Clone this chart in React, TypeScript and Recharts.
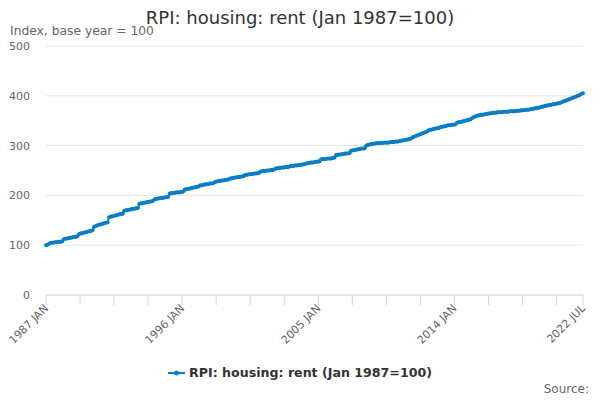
import React from 'react';
import { LineChart, Line, XAxis, YAxis, CartesianGrid } from 'recharts';

const FONT = '"DejaVu Sans", sans-serif';
const BLUE = '#0a7ec4';

// first and last month of the series
const startYear = 1987;
const monthNames = ['JAN', 'FEB', 'MAR', 'APR', 'MAY', 'JUN', 'JUL', 'AUG', 'SEP', 'OCT', 'NOV', 'DEC'];

// RPI: housing: rent (Jan 1987=100), monthly
const rentIndex = [
  100, 101, 102, 104, 105, 105, 105, 106, 106, 106, 107, 107, // 1987
  107, 108, 112, 113, 113, 114, 114, 115, 115, 116, 116, 117, // 1988
  117, 118, 122, 123, 124, 124, 125, 126, 126, 127, 128, 128, // 1989
  129, 130, 137, 138, 139, 140, 141, 142, 142, 143, 144, 145, // 1990
  145, 146, 156, 157, 158, 158, 159, 160, 160, 161, 162, 162, // 1991
  163, 163, 169, 170, 170, 171, 171, 172, 172, 173, 173, 174, // 1992
  174, 175, 183, 184, 184, 185, 185, 186, 186, 187, 187, 188, // 1993
  188, 189, 192, 193, 193, 194, 194, 195, 195, 195, 196, 196, // 1994
  197, 197, 204, 204, 205, 205, 205, 206, 206, 206, 206, 207, // 1995
  207, 208, 212, 212, 213, 213, 214, 214, 215, 216, 216, 217, // 1996
  217, 218, 220, 220, 221, 221, 222, 222, 223, 223, 224, 224, // 1997
  224, 225, 227, 228, 228, 229, 229, 230, 230, 230, 231, 231, // 1998
  232, 232, 234, 234, 235, 235, 236, 236, 237, 237, 237, 238, // 1999
  238, 239, 241, 241, 242, 242, 243, 243, 243, 244, 244, 244, // 2000
  245, 245, 248, 248, 249, 249, 249, 250, 250, 250, 251, 251, // 2001
  251, 252, 254, 254, 255, 255, 255, 256, 256, 256, 257, 257, // 2002
  257, 258, 259, 259, 259, 260, 260, 260, 261, 261, 261, 262, // 2003
  262, 263, 264, 264, 265, 265, 266, 266, 266, 267, 267, 268, // 2004
  268, 268, 272, 273, 273, 273, 273, 274, 274, 274, 274, 275, // 2005
  275, 276, 281, 281, 282, 282, 282, 283, 283, 284, 284, 284, // 2006
  285, 285, 290, 290, 291, 291, 292, 292, 293, 293, 294, 294, // 2007
  294, 295, 300, 301, 302, 302, 303, 303, 304, 304, 305, 305, // 2008
  305, 305, 305, 305, 306, 306, 306, 306, 306, 307, 307, 307, // 2009
  307, 308, 308, 308, 309, 309, 310, 310, 311, 311, 312, 312, // 2010
  313, 314, 315, 317, 318, 319, 320, 321, 322, 323, 324, 325, // 2011
  326, 327, 328, 330, 331, 332, 332, 333, 334, 334, 335, 335, // 2012
  336, 337, 338, 338, 339, 339, 340, 341, 341, 341, 342, 342, // 2013
  342, 343, 346, 347, 347, 348, 348, 349, 350, 350, 351, 352, // 2014
  352, 353, 355, 357, 358, 359, 360, 361, 361, 362, 362, 362, // 2015
  363, 363, 364, 364, 365, 365, 365, 366, 366, 366, 367, 367, // 2016
  367, 367, 367, 368, 368, 368, 368, 368, 369, 369, 369, 369, // 2017
  369, 370, 370, 370, 370, 371, 371, 371, 371, 372, 372, 372, // 2018
  373, 373, 374, 374, 375, 375, 376, 376, 377, 378, 378, 379, // 2019
  380, 380, 381, 381, 382, 382, 383, 383, 384, 384, 385, 385, // 2020
  386, 387, 388, 389, 390, 391, 392, 393, 394, 395, 396, 397, // 2021
  398, 399, 400, 401, 403, 404, 405, // 2022
];

const yTicks = [0, 100, 200, 300, 400, 500];
const labelledMonths = [0, 108, 216, 324, 426];

const data = rentIndex.map((v, i) => ({
  i,
  label: `${startYear + Math.floor(i / 12)} ${monthNames[i % 12]}`,
  v,
}));

const lastIdx = rentIndex.length - 1;
const xTicks: number[] = [];
for (let t = 0; t < lastIdx; t += 27) xTicks.push(t);
xTicks.push(lastIdx);

const XTick = (props: any) => {
  const { x, y, payload } = props;
  if (!labelledMonths.includes(payload.value)) return null;
  const tx = x + 3;
  const ty = y + 2;
  return (
    <text
      x={tx}
      y={ty}
      transform={`rotate(-45, ${tx}, ${ty})`}
      textAnchor="end"
      fontSize={11}
      fill="#666"
      fontFamily={FONT}
    >
      {data[payload.value].label}
    </text>
  );
};

export default function App() {
  return (
    <div style={{ position: 'absolute', left: 0, top: 0, width: 600, height: 400, background: '#fff', fontFamily: FONT }}>
      <div style={{ position: 'absolute', top: 7, width: 600, textAlign: 'center', fontSize: 18, color: '#333' }}>
        RPI: housing: rent (Jan 1987=100)
      </div>
      <div style={{ position: 'absolute', top: 24, left: 10, fontSize: 12.3, color: '#666' }}>
        Index, base year = 100
      </div>
      <LineChart width={600} height={400} data={data} margin={{ top: 46, right: 17, bottom: 75, left: 0 }}>
        <CartesianGrid vertical={false} stroke="#e6e6e6" />
        <XAxis
          dataKey="i"
          type="number"
          domain={[0, lastIdx]}
          ticks={xTicks}
          interval={0}
          height={30}
          stroke="#ccd6eb"
          tickSize={10}
          tick={<XTick />}
        />
        <YAxis
          domain={[0, 500]}
          ticks={yTicks}
          width={46}
          axisLine={false}
          tickLine={false}
          tickSize={0}
          tickMargin={16}
          tick={{ fontSize: 11, fill: '#666', fontFamily: FONT }}
        />
        <Line
          type="linear"
          dataKey="v"
          stroke={BLUE}
          strokeWidth={2}
          dot={{ r: 1.5, fill: BLUE, stroke: BLUE, strokeWidth: 1 }}
          isAnimationActive={false}
        />
      </LineChart>
      <div style={{ position: 'absolute', top: 365, width: 600, display: 'flex', justifyContent: 'center', alignItems: 'center' }}>
        <svg width={17} height={10} style={{ marginRight: 4 }}>
          <line x1={0} y1={5} x2={17} y2={5} stroke={BLUE} strokeWidth={2} />
          <circle cx={8.5} cy={5} r={2.5} fill={BLUE} />
        </svg>
        <span style={{ fontSize: 12.6, fontWeight: 'bold', color: '#333' }}>RPI: housing: rent (Jan 1987=100)</span>
      </div>
      <div style={{ position: 'absolute', top: 382, right: 11, fontSize: 12, color: '#666' }}>Source:</div>
    </div>
  );
}
